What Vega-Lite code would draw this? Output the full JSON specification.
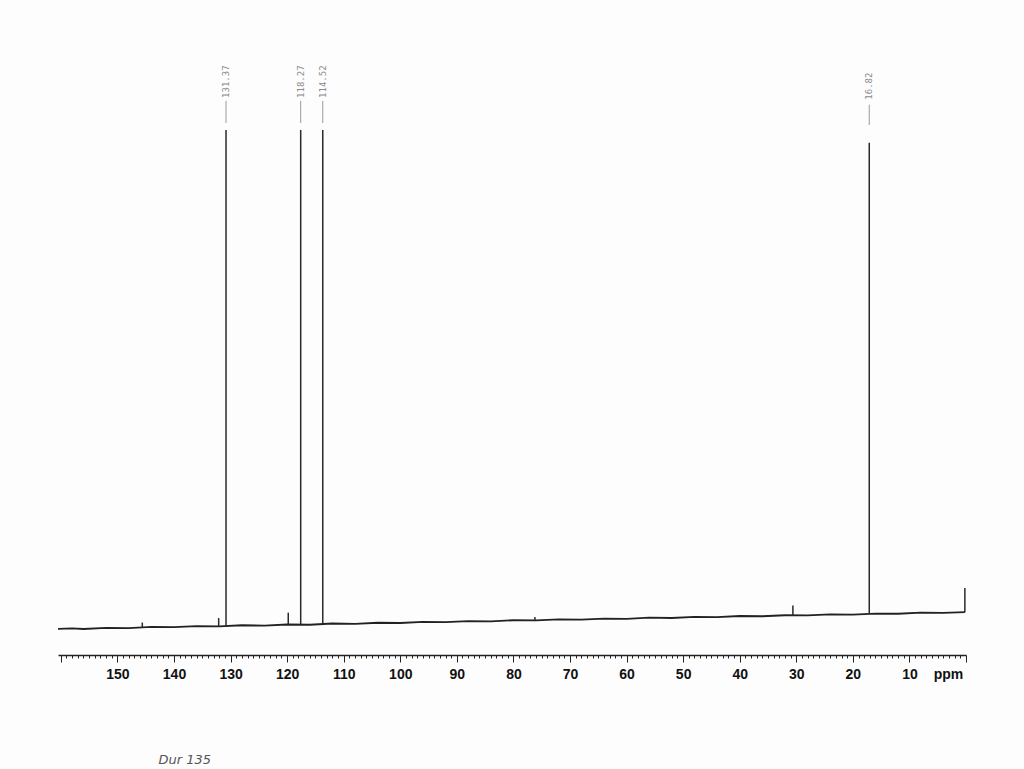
{
  "$schema": "https://vega.github.io/schema/vega-lite/v6.json",
  "autosize": {"type": "none"},
  "padding": {"left": 58, "top": 60, "right": 58, "bottom": 114},
  "width": 908,
  "height": 595,
  "background": "#fdfdfd",
  "config": {"view": {"stroke": null}},
  "datasets": {
    "baseline": [
      {"ppm": 160.5, "v": -1.40}, {"ppm": 158, "v": -1.30}, {"ppm": 156, "v": -1.42}, {"ppm": 152, "v": -1.18},
      {"ppm": 148, "v": -1.25}, {"ppm": 144, "v": -1.00}, {"ppm": 140, "v": -1.05}, {"ppm": 136, "v": -0.82},
      {"ppm": 132, "v": -0.88}, {"ppm": 128, "v": -0.66}, {"ppm": 124, "v": -0.74}, {"ppm": 120, "v": -0.50},
      {"ppm": 116, "v": -0.55}, {"ppm": 112, "v": -0.30}, {"ppm": 108, "v": -0.38}, {"ppm": 104, "v": -0.15},
      {"ppm": 100, "v": -0.20}, {"ppm": 96, "v": 0.02}, {"ppm": 92, "v": -0.02}, {"ppm": 88, "v": 0.20},
      {"ppm": 84, "v": 0.15}, {"ppm": 80, "v": 0.36}, {"ppm": 76, "v": 0.32}, {"ppm": 72, "v": 0.54},
      {"ppm": 68, "v": 0.48}, {"ppm": 64, "v": 0.70}, {"ppm": 60, "v": 0.66}, {"ppm": 56, "v": 0.88},
      {"ppm": 52, "v": 0.82}, {"ppm": 48, "v": 1.05}, {"ppm": 44, "v": 1.00}, {"ppm": 40, "v": 1.22},
      {"ppm": 36, "v": 1.17}, {"ppm": 32, "v": 1.38}, {"ppm": 28, "v": 1.34}, {"ppm": 24, "v": 1.55},
      {"ppm": 20, "v": 1.50}, {"ppm": 16, "v": 1.72}, {"ppm": 12, "v": 1.68}, {"ppm": 8, "v": 1.90},
      {"ppm": 4, "v": 1.85}, {"ppm": 0.2, "v": 2.00}
    ],
    "peaks": [
      {"ppm": 130.8, "base": -0.78, "top": 100},
      {"ppm": 117.6, "base": -0.50, "top": 100},
      {"ppm": 113.7, "base": -0.42, "top": 100},
      {"ppm": 17.1, "base": 1.64, "top": 97.4},
      {"ppm": 145.6, "base": -1.09, "top": -0.1},
      {"ppm": 132.1, "base": -0.81, "top": 0.8},
      {"ppm": 119.8, "base": -0.55, "top": 1.9},
      {"ppm": 76.2, "base": 0.38, "top": 1.0},
      {"ppm": 30.6, "base": 1.35, "top": 3.35},
      {"ppm": 0.2, "base": 2.0, "top": 6.9}
    ],
    "labels": [
      {"ppm": 130.8, "label": "131.37", "c1": 101.4, "c2": 105.9, "ty": 109.8},
      {"ppm": 117.6, "label": "118.27", "c1": 101.4, "c2": 105.9, "ty": 109.8},
      {"ppm": 113.7, "label": "114.52", "c1": 101.4, "c2": 105.9, "ty": 109.8},
      {"ppm": 17.1, "label": "16.82", "c1": 101.0, "c2": 105.1, "ty": 108.9}
    ],
    "note": [{"ppm": 138.1, "v": -28, "text": "Dur 135"}]
  },
  "encoding": {
    "x": {
      "field": "ppm", "type": "quantitative",
      "scale": {"domain": [0, 160.5], "reverse": true, "nice": false, "zero": false},
      "axis": {
        "values": [0,1,2,3,4,5,6,7,8,9,10,11,12,13,14,15,16,17,18,19,20,21,22,23,24,25,26,27,28,29,30,31,32,33,34,35,36,37,38,39,40,41,42,43,44,45,46,47,48,49,50,51,52,53,54,55,56,57,58,59,60,61,62,63,64,65,66,67,68,69,70,71,72,73,74,75,76,77,78,79,80,81,82,83,84,85,86,87,88,89,90,91,92,93,94,95,96,97,98,99,100,101,102,103,104,105,106,107,108,109,110,111,112,113,114,115,116,117,118,119,120,121,122,123,124,125,126,127,128,129,130,131,132,133,134,135,136,137,138,139,140,141,142,143,144,145,146,147,148,149,150,151,152,153,154,155,156,157,158,159,160],
        "tickCount": 161,
        "labelExpr": "(datum.value % 10 === 0 && datum.value >= 10 && datum.value <= 150) ? datum.label : ''",
        "labelOverlap": false,
        "labelBound": false,
        "labelFlush": false,
        "labelFont": "Liberation Sans",
        "labelFontSize": 14,
        "labelFontWeight": "bold",
        "labelColor": "#111",
        "labelPadding": 5,
        "tickColor": "#222",
        "tickWidth": 1,
        "tickSize": {"condition": {"test": "datum.value % 10 === 0", "value": 7}, "value": 3},
        "domainColor": "#222",
        "domainWidth": 1.5,
        "grid": false,
        "title": "ppm",
        "titleFont": "Liberation Sans",
        "titleFontSize": 14,
        "titleFontWeight": "bold",
        "titleColor": "#111",
        "titleX": 890,
        "titleY": 19,
        "titleAlign": "center",
        "titleBaseline": "middle"
      }
    }
  },
  "layer": [
    {
      "data": {"name": "baseline"},
      "mark": {"type": "line", "color": "#222", "strokeWidth": 1.8},
      "encoding": {
        "y": {
          "field": "v", "type": "quantitative",
          "scale": {"domain": [-6.7, 114.2], "nice": false, "zero": false},
          "axis": null
        }
      }
    },
    {
      "data": {"name": "peaks"},
      "mark": {"type": "rule", "color": "#2a2a2a", "strokeWidth": 1.5},
      "encoding": {
        "y": {"field": "base", "type": "quantitative"},
        "y2": {"field": "top"}
      }
    },
    {
      "data": {"name": "labels"},
      "mark": {"type": "rule", "color": "#9a9a9a", "strokeWidth": 1},
      "encoding": {
        "y": {"field": "c1", "type": "quantitative"},
        "y2": {"field": "c2"}
      }
    },
    {
      "data": {"name": "labels"},
      "mark": {"type": "text", "angle": 270, "align": "center", "baseline": "middle", "font": "DejaVu Sans Mono", "fontSize": 9, "color": "#8a8a8a"},
      "encoding": {
        "y": {"field": "ty", "type": "quantitative"},
        "text": {"field": "label"}
      }
    },
    {
      "data": {"name": "note"},
      "mark": {"type": "text", "align": "center", "baseline": "middle", "font": "DejaVu Sans", "fontSize": 13, "fontStyle": "italic", "color": "#555"},
      "encoding": {
        "y": {"field": "v", "type": "quantitative"},
        "text": {"field": "text"}
      }
    }
  ]
}
